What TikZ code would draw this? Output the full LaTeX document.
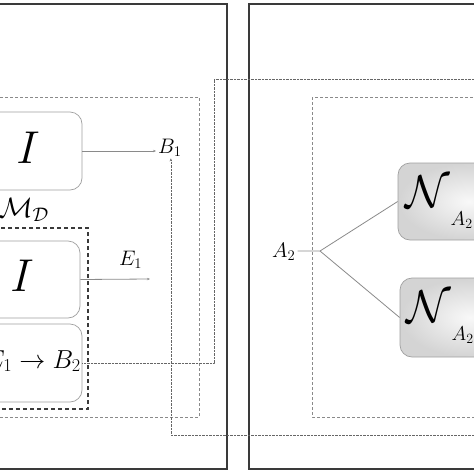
\RequirePackage{fix-cm}
\documentclass[tikz,border=0pt]{standalone}
\usetikzlibrary{arrows.meta}
\definecolor{frame}{HTML}{3A3A3A}
\definecolor{lineg}{HTML}{8A8A8A}
\definecolor{boxg}{HTML}{A0A0A0}
\tikzset{
  outer/.style={draw=frame, line width=1.5pt},
  lightdash/.style={draw=lineg, line width=0.6pt, dash pattern=on 3pt off 2pt},
  darkdash/.style={draw=frame, line width=1.1pt, dash pattern=on 4pt off 3pt},
  rbox/.style={draw=boxg, line width=0.7pt, rounded corners=12pt, fill=white, inner sep=0pt},
  nbox/.style={draw=boxg, line width=0.7pt, rounded corners=12pt, inner sep=0pt, shading=radial, inner color=gray!5, outer color=gray!34},
  conn/.style={draw=lineg, line width=0.8pt},
  arr/.style={conn, -{Stealth[length=3pt,width=2.4pt]}},
  dotline/.style={draw=gray!80!black, line width=0.7pt, dash pattern=on 0.7pt off 0.7pt},
  lbl/.style={inner sep=2pt, font=\fontsize{21}{21}\selectfont},
}
\begin{document}
\begin{tikzpicture}[x=1pt,y=-1pt]
\useasboundingbox (0,0) rectangle (474,474);
\clip (0,0) rectangle (474,474);
% outer frames
\draw[outer] (-20,4) rectangle (227,469);
\draw[outer] (249,4) rectangle (520,469);
% light dashed boxes
\draw[lightdash] (-20,97) rectangle (199,417);
\draw[lightdash] (312,97) rectangle (520,417);
% dark dashed box
\draw[darkdash] (-20,228) rectangle (88,409);
% left boxes
\node[rbox, minimum width=122pt, minimum height=78pt] (Itop) at (21,151) {};
\node[rbox, minimum width=120pt, minimum height=77pt] (Imid) at (20,279.5) {};
\node[rbox, minimum width=122pt, minimum height=78pt] (Ebox) at (21,363) {};
\node[inner sep=0pt, font=\fontsize{46}{46}\selectfont] (Itxt) at (28,148) {$I$};
\node[inner sep=0pt, font=\fontsize{46}{46}\selectfont] (Imtxt) at (22,276) {$I$};
\node[inner sep=0pt, anchor=base east, font=\fontsize{26}{26}\selectfont] (Etxt) at (81,368) {$E_1\rightarrow B_2$};
\node[inner sep=0pt, anchor=base east, font=\fontsize{28}{28}\selectfont] (MD) at (49,217) {$\mathcal{M}_{\mathcal{D}}$};
% labels
\node[lbl, anchor=base west] (B1) at (156,153) {$B_1$};
\node[lbl, anchor=base west] (E1) at (117,265) {$E_1$};
\node[lbl, anchor=base west] (A2) at (270,257) {$A_2$};
\coordinate (E1end) at (150,279);
\draw[arr] (Itop.east) -- (Itop.east -| B1.west);
\draw[arr] (Imid.east) -- (E1end);
% right boxes
\node[nbox, minimum width=142pt, minimum height=77pt] (Ntop) at (469,201.5) {};
\node[nbox, minimum width=140pt, minimum height=79pt] (Nbot) at (470,317.5) {};
\node[inner sep=0pt, anchor=base west] (Nt) at (405,207) {\fontsize{46}{46}\selectfont$\mathcal{N}$\hspace{1pt}\raisebox{-18pt}{\fontsize{20}{20}\selectfont$A_2$}};
\node[inner sep=0pt, anchor=base west] (Nb) at (406,322) {\fontsize{46}{46}\selectfont$\mathcal{N}$\hspace{1pt}\raisebox{-18pt}{\fontsize{20}{20}\selectfont$A_2$}};
\coordinate (split) at (320,251);
\draw[conn] (A2.east |- split) -- (split) -- (Ntop.west);
\draw[conn] (split) -- (Nbot.west);
% dotted feedback lines
\coordinate (c1) at (214,79);
\coordinate (offR1) at (520,79);
\coordinate (offR2) at (520,435);
\draw[dotline] (Ebox.east) -| (c1) -- (offR1);
\draw[dotline, -{Stealth[length=3pt,width=2.4pt]}] (offR2) -| ([xshift=1pt]B1.south);
\end{tikzpicture}
\end{document}
